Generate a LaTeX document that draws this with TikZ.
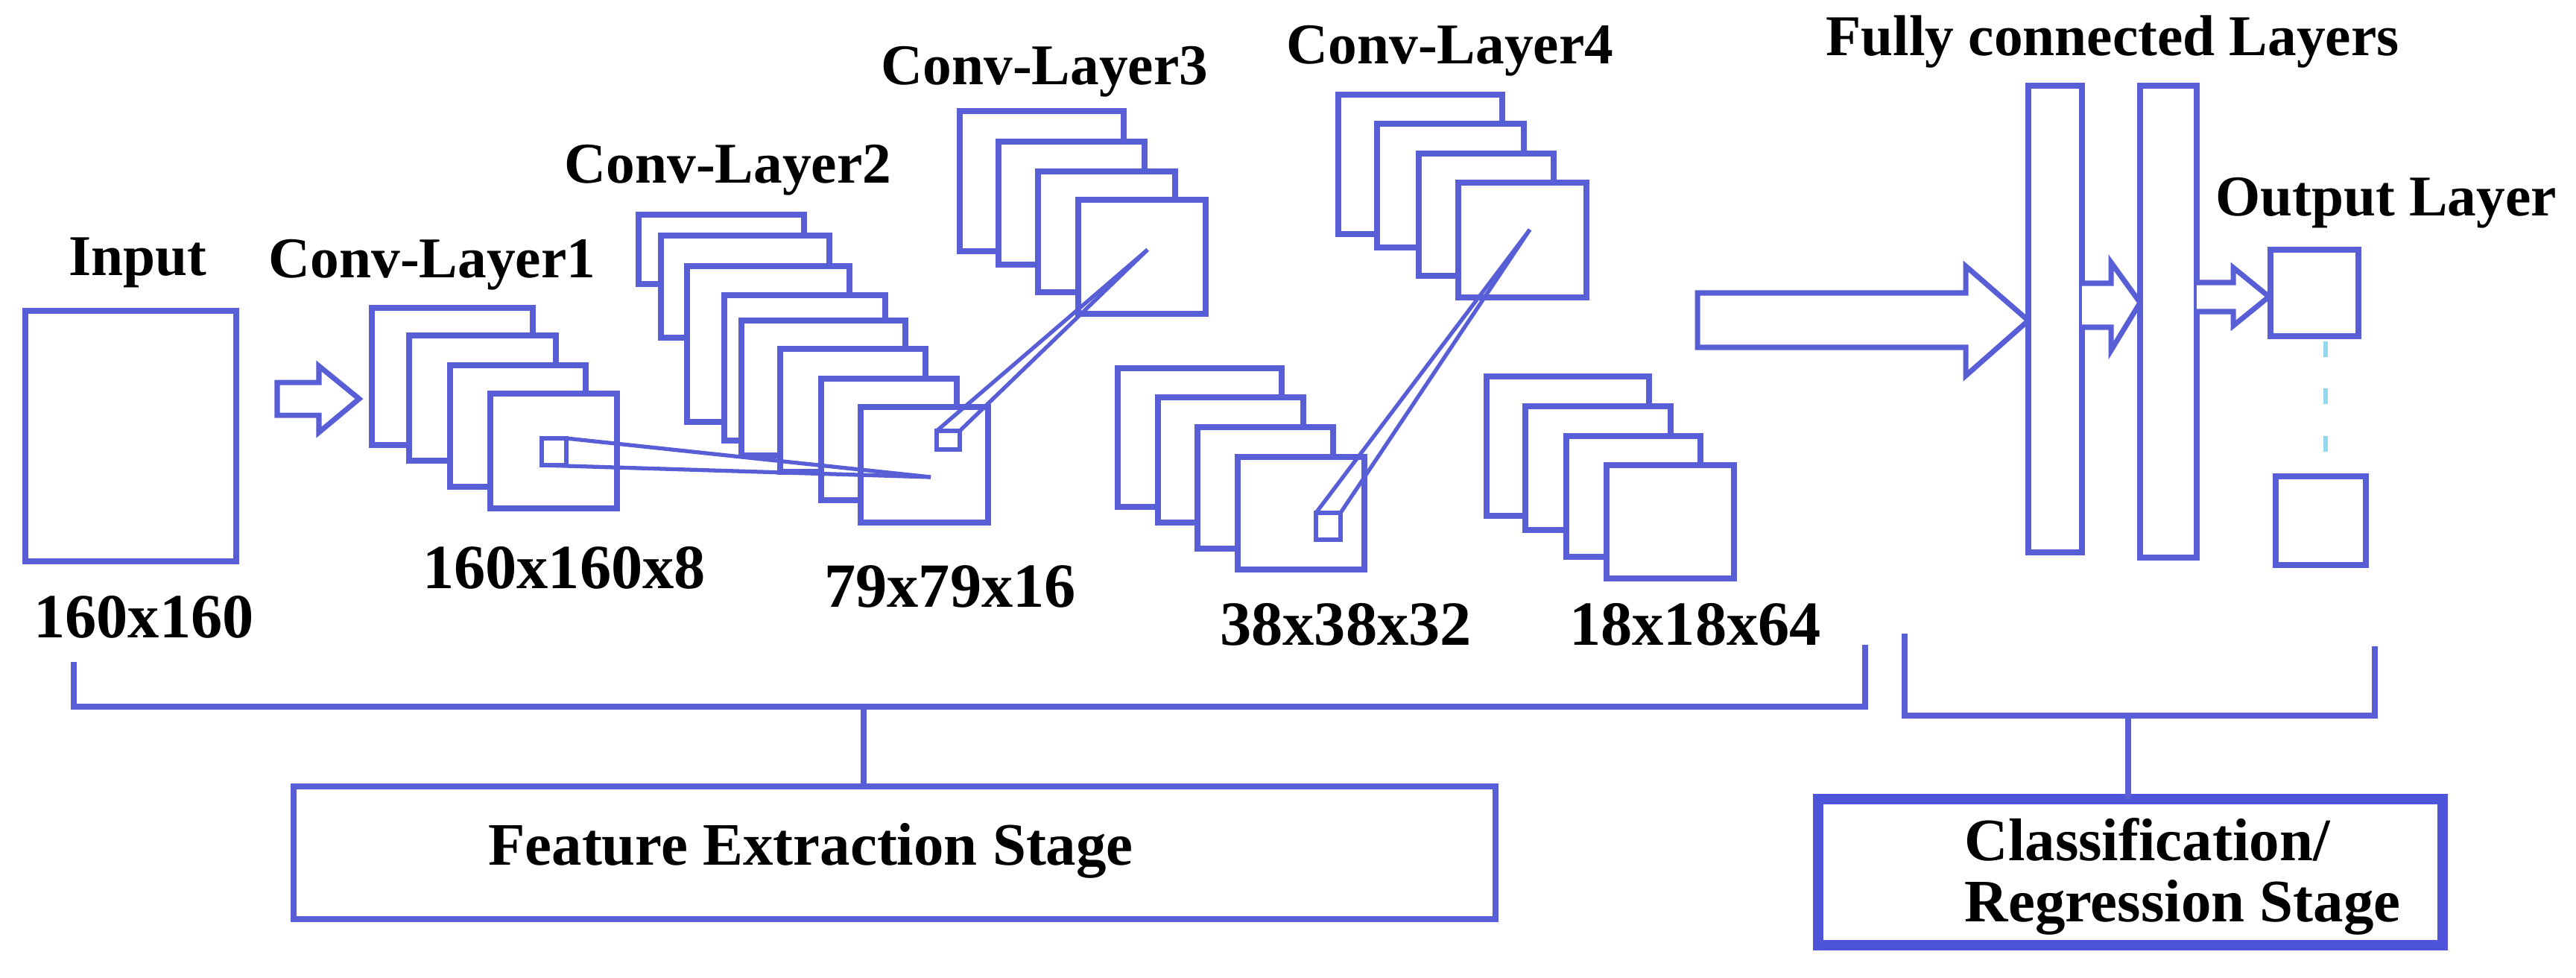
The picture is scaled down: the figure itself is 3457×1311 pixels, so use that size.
\documentclass[tikz,border=0pt]{standalone}
\usepackage{fontspec}
\setmainfont{Liberation Serif}
\usetikzlibrary{fit}
\definecolor{ln}{RGB}{88,94,214}
\definecolor{dotc}{RGB}{150,215,240}
\begin{document}
\begin{tikzpicture}[x=0.01cm,y=-0.01cm,
  rb/.style={draw=ln,line width=2.2pt,fill=white,inner sep=0pt,outer sep=0pt},
  ln/.style={draw=ln,line width=2.2pt},
  thin/.style={draw=ln,line width=1.5pt},
  lab/.style={font=\bfseries\fontsize{22}{26}\selectfont,inner sep=0pt},
  num/.style={font=\bfseries\fontsize{24}{28}\selectfont,inner sep=0pt},
  arr/.style={draw=ln,line width=2pt,fill=white,line join=miter}]
\useasboundingbox (0,0) rectangle (3457,1311);
% labels
\node[lab] (tin) at (185,352) {Input};
\node[lab] (tc1) at (580,355) {Conv-Layer1};
\node[lab] (tc2) at (977,228) {Conv-Layer2};
\node[lab] (tc3) at (1402,96) {Conv-Layer3};
\node[lab] (tc4) at (1946,68) {Conv-Layer4};
\node[lab] (tfc) at (2835,56) {Fully connected Layers};
\node[lab] (tout) at (3202,272) {Output Layer};
% input
\node[rb,fit={(34,417)(317,753)}] (in) {};
\node[num] (n0) at (193,828) {160x160};
% arrow 1
\draw[arr] (372,513) -- (428,513) -- (428,491) -- (482,535) -- (428,580) -- (428,557) -- (372,557) -- cycle;
% conv1
\node[rb,fit={(499,413)(715,597)}] (a1) {};
\node[rb,fit={(549,450)(746,618)}] (a2) {};
\node[rb,fit={(604,490)(786,653)}] (a3) {};
\node[rb,fit={(658,528)(828,682)}] (a4) {};
\node[num] (n1) at (757,762) {160x160x8};
% conv2
\node[rb,fit={(857,288)(1079,381)}] (b1) {};
\node[rb,fit={(887,316)(1113,453)}] (b2) {};
\node[rb,fit={(922,357)(1140,566)}] (b3) {};
\node[rb,fit={(972,396)(1188,591)}] (b4) {};
\node[rb,fit={(995,430)(1215,611)}] (b5) {};
\node[rb,fit={(1047,468)(1242,633)}] (b6) {};
\node[rb,fit={(1102,508)(1284,671)}] (b7) {};
\node[rb,fit={(1155,546)(1326,701)}] (b8) {};
\node[num] (n2) at (1275,787) {79x79x16};
% projection conv1 -> conv2
\node[rb,line width=1.8pt,fit={(727,588)(760,624)}] (s1) {};
\coordinate (p1) at (1249,640);
\draw[thin] (s1.north east) -- (p1);
\draw[thin] (s1.south west) -- (p1);
% conv3
\node[rb,fit={(1288,149)(1508,337)}] (c1) {};
\node[rb,fit={(1340,190)(1536,355)}] (c2) {};
\node[rb,fit={(1393,230)(1577,392)}] (c3) {};
\node[rb,fit={(1447,268)(1618,421)}] (c4) {};
\node[rb,line width=1.8pt,fit={(1257,578)(1288,603)}] (s2) {};
\coordinate (p2) at (1540,335);
\draw[thin] (s2.north west) -- (p2);
\draw[thin] (s2.north east) -- (p2);
% conv4
\node[rb,fit={(1796,127)(2016,314)}] (d1) {};
\node[rb,fit={(1848,166)(2045,332)}] (d2) {};
\node[rb,fit={(1904,206)(2085,370)}] (d3) {};
\node[rb,fit={(1957,245)(2129,399)}] (d4) {};
% 38x38x32
\node[rb,fit={(1500,494)(1720,680)}] (e1) {};
\node[rb,fit={(1554,533)(1749,701)}] (e2) {};
\node[rb,fit={(1607,573)(1789,736)}] (e3) {};
\node[rb,fit={(1661,613)(1831,764)}] (e4) {};
\node[num] (n3) at (1806,838) {38x38x32};
\node[rb,line width=1.8pt,fit={(1766,688)(1799,724)}] (s3) {};
\coordinate (p3) at (2053,308);
\draw[thin] (s3.north west) -- (p3);
\draw[thin] (s3.north east) -- (p3);
% 18x18x64
\node[rb,fit={(1995,505)(2213,692)}] (f1) {};
\node[rb,fit={(2047,545)(2242,711)}] (f2) {};
\node[rb,fit={(2102,585)(2282,747)}] (f3) {};
\node[rb,fit={(2156,624)(2327,776)}] (f4) {};
\node[num] (n4) at (2275,838) {18x18x64};
% big arrow
\draw[arr] (2278,393) -- (2638,393) -- (2638,357) -- (2722,430) -- (2638,504) -- (2638,466) -- (2278,466) -- cycle;
% fully connected
\node[rb,fit={(2722,115)(2794,741)}] (fc1) {};
\node[rb,fit={(2872,115)(2948,748)}] (fc2) {};
\draw[arr] (fc1.east |- 0,380) -- (2833,380) -- (2833,352) -- (fc2.west |- 0,406) -- (2833,470) -- (2833,439) -- (fc1.east |- 0,439);
\draw[arr] (fc2.east |- 0,379) -- (2997,379) -- (2997,359) -- (3045,398) -- (2997,437) -- (2997,418) -- (fc2.east |- 0,418);
% outputs
\node[rb,fit={(3047,335)(3165,451)}] (o1) {};
\node[rb,fit={(3054,639)(3175,758)}] (o2) {};
\draw[dotc,line width=1.5pt,dash pattern=on 6pt off 12pt] (3121,458) -- (3121,639);
% feature extraction brace
\coordinate (fl) at (99,888);
\coordinate (fr) at (2503,865);
\coordinate (fm) at (1159,948);
\draw[ln] (fl) -- (fl |- fm) -- (fr |- fm) -- (fr);
\node[rb,fit={(394,1055)(2007,1233)}] (fe) {};
\draw[ln] (fm) -- (fm |- fe.north);
\node[lab,font=\bfseries\fontsize{23}{27}\selectfont] (tfe) at (1088,1141) {Feature Extraction Stage};
% classification brace
\coordinate (cl) at (2556,850);
\coordinate (cr) at (3187,867);
\coordinate (cm) at (2856,960);
\draw[ln] (cl) -- (cl |- cm) -- (cr |- cm) -- (cr);
\node[rb,line width=4pt,draw=ln!90!blue,fit={(2440,1072)(3278,1268)}] (cs) {};
\draw[ln] (cm) -- (cm |- cs.north);
\node[lab,font=\bfseries\fontsize{23}{27}\selectfont,anchor=west] (tcs1) at (2636,1126) {Classification/};
\node[lab,font=\bfseries\fontsize{23}{27}\selectfont,anchor=west] (tcs2) at (2636,1217) {Regression Stage};
\end{tikzpicture}
\end{document}
